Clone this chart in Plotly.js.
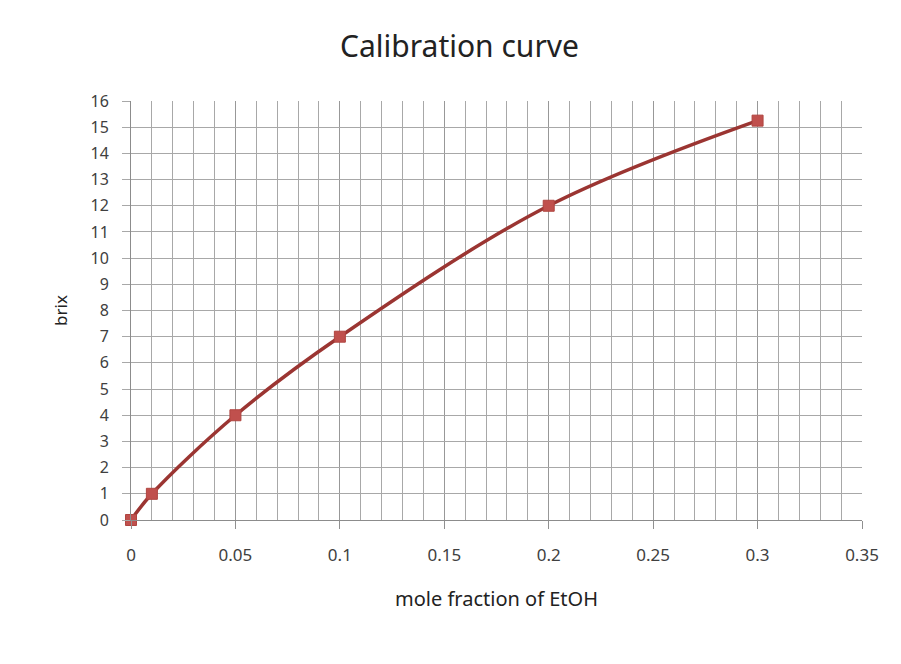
<!DOCTYPE html>
<html>
<head>
<meta charset="utf-8">
<script src="https://cdn.plot.ly/plotly-3.0.1.min.js"></script>
<style>
  html, body { margin: 0; padding: 0; background: #fff; }
  #chart { width: 901px; height: 664px; }
</style>
</head>
<body>
<div id="chart"></div>
<script>
/* ── Data ──────────────────────────────────────────────────── */
const moleFraction = [0, 0.01, 0.05, 0.1, 0.2, 0.3];
const brix         = [0, 1, 4, 7, 12, 15.25];
const xTicks = [0, 0.05, 0.1, 0.15, 0.2, 0.25, 0.3, 0.35];
const yTicks = [0, 1, 2, 3, 4, 5, 6, 7, 8, 9, 10, 11, 12, 13, 14, 15, 16];

const FONT = 'Noto Sans, Open Sans, sans-serif';
const GRID = '#a8a8a8';

const trace = {
  x: moleFraction, y: brix,
  mode: 'lines+markers',
  line: { color: '#9b3532', width: 3.5, shape: 'spline', smoothing: 1 },
  marker: { symbol: 'square', size: 11, color: '#c0504d', line: { color: '#b04540', width: 1 } },
  cliponaxis: false,
  hoverinfo: 'x+y'
};

const layout = {
  width: 901, height: 664,
  paper_bgcolor: '#fff', plot_bgcolor: '#fff',
  font: { family: FONT, size: 15, color: '#404040' },
  margin: { l: 131, r: 39, t: 101, b: 144 },
  showlegend: false,
  title: { text: 'Calibration curve', font: { family: FONT, size: 30, color: '#222' },
           x: 0.51, xanchor: 'center', xref: 'container', y: 0.93, yanchor: 'middle' },
  xaxis: {
    range: [0, 0.35], tickvals: xTicks, ticktext: xTicks.map(String),
    showgrid: true, gridcolor: '#989898', gridwidth: 1,
    minor: { dtick: 0.01, showgrid: true, gridcolor: GRID, gridwidth: 1, ticks: '' },
    ticks: 'outside', ticklen: 8, tickcolor: '#909090', ticklabelstandoff: 12,
    showline: true, linecolor: '#8c8c8c', linewidth: 1,
    zeroline: false, tickfont: { size: 17, color: '#404040' },
    title: { text: 'mole fraction of EtOH', font: { size: 20, color: '#222' }, standoff: 26 }
  },
  yaxis: {
    range: [0, 16], tickvals: yTicks,
    showgrid: true, gridcolor: GRID, gridwidth: 1,
    ticks: 'outside', ticklen: 8, tickcolor: GRID, ticklabelstandoff: 10,
    showline: true, linecolor: '#8c8c8c', linewidth: 1,
    zeroline: false, tickfont: { size: 16, color: '#404040' },
    title: { text: 'brix', font: { size: 17, color: '#222' }, standoff: 18 }
  }
};

Plotly.newPlot('chart', [trace], layout, { displayModeBar: false, staticPlot: true });
</script>
</body>
</html>
